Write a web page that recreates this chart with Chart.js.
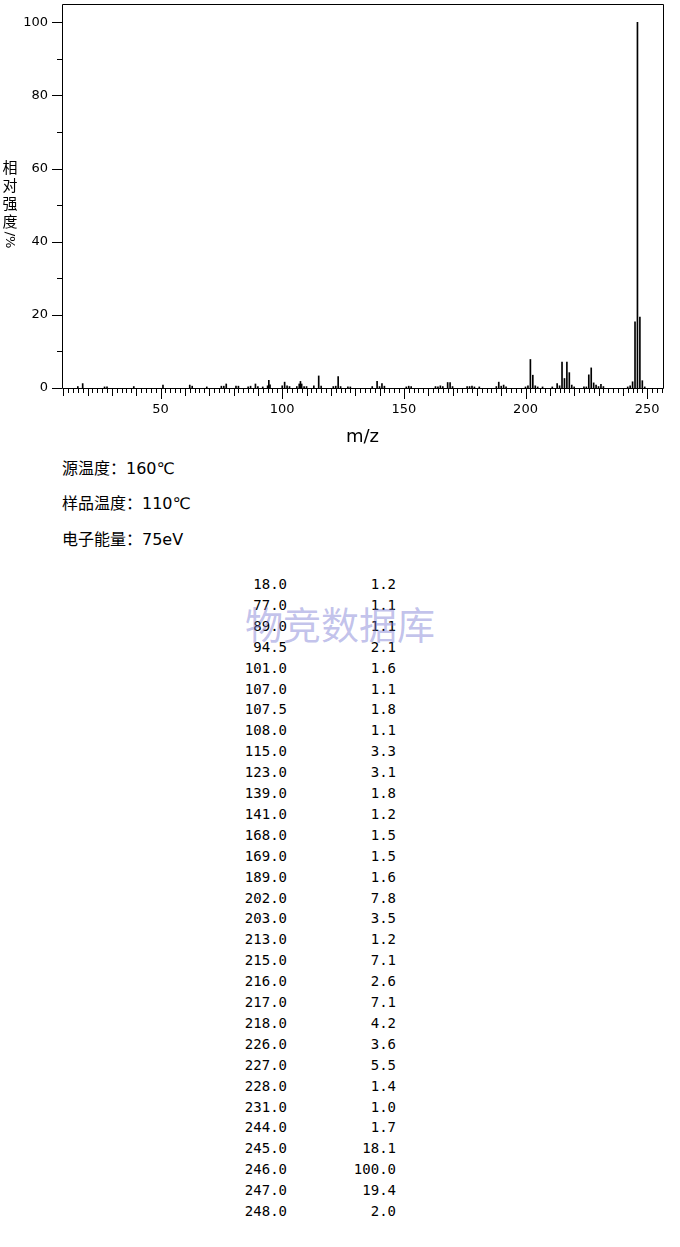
<!DOCTYPE html>
<html>
<head>
<meta charset="utf-8">
<script src="https://cdn.jsdelivr.net/npm/chart.js@4/dist/chart.umd.min.js"></script>
<style>
  html, body { margin: 0; padding: 0; background: #fff; }
  body { width: 680px; height: 1247px; position: relative; overflow: hidden; font-family: "DejaVu Sans", "Noto Sans CJK SC", sans-serif; color: #000; }
  #wrap { position: absolute; left: 0; top: 0; width: 680px; height: 450px; }
  .ych { position: absolute; left: 1px; width: 18px; text-align: center; font-size: 15px; line-height: 16px; font-family: "Noto Sans CJK SC", sans-serif; }
  .info { position: absolute; left: 62px; font-size: 16px; line-height: 20px; font-family: "DejaVu Sans", "Noto Sans CJK SC", sans-serif; }
  .row { position: absolute; left: 0; height: 20px; font-family: "DejaVu Sans Mono", monospace; font-size: 14px; line-height: 20px; }
  .c1 { position: absolute; left: 0; width: 287px; text-align: right; }
  .c2 { position: absolute; left: 0; width: 396px; text-align: right; }
  #wm { position: absolute; left: 240px; top: 600px; width: 200px; text-align: center; font-family: "Noto Sans CJK SC", sans-serif; font-size: 38px; line-height: 46px; color: rgba(120,120,210,0.45); z-index: 5; }
</style>
</head>
<body>
<div id="wrap"><canvas id="c" width="680" height="450"></canvas></div>
<div id="ytitle"></div>
<div class="info" style="top:459px">源温度：160℃</div>
<div class="info" style="top:494px">样品温度：110℃</div>
<div class="info" style="top:530px">电子能量：75eV</div>
<div id="table"></div>
<div id="wm">物竞数据库</div>
<script>
// ---- data ----
const mzValues = [16,18,27,28,39,51,62,63,69,75,76,77,81,82,86,87,89,90,92,94,94.5,95,
  100,101,102,103,106,107,107.5,108,109,110,113,115,116,121,122,123,124,127,128,
  137,139,140,141,142,151,152,153,163,164,165,166,168,169,170,176,177,178,179,181,
  188,189,190,191,192,200,201,202,203,204,205,207,211,213,214,215,216,217,218,219,220,
  224,225,226,227,228,229,230,231,232,242,243,244,245,246,247,248,249];
const intensities = [0.4,1.2,0.3,0.3,0.4,0.8,0.8,0.5,0.3,0.5,0.5,1.1,0.5,0.5,0.3,0.5,1.1,0.4,0.3,0.6,2.1,0.9,
  0.6,1.6,0.6,0.4,0.4,1.1,1.8,1.1,0.4,0.4,0.6,3.3,0.5,0.4,0.5,3.1,0.4,0.3,0.3,
  0.4,1.8,0.4,1.2,0.5,0.3,0.5,0.4,0.4,0.3,0.6,0.4,1.5,1.5,0.4,0.4,0.4,0.5,0.3,0.3,
  0.4,1.6,0.5,0.8,0.3,0.3,0.6,7.8,3.5,0.6,0.3,0.3,0.3,1.2,0.6,7.1,2.6,7.1,4.2,0.8,0.3,
  0.3,0.3,3.6,5.5,1.4,0.8,0.4,1.0,0.4,0.3,0.6,1.7,18.1,100,19.4,2.0,0.3];
const xTickLabels = [50,100,150,200,250];
const yTickLabels = [0,20,40,60,80,100];
const xRange = [9.5, 256.5];
const yRange = [0, 105];
const xMinorStep = 2, xMidStep = 10, xMajorStep = 50;
const yMinorStep = 10, yMajorStep = 20;
const yTitleChars = ["相","对","强","度"];
const yTitleTail = "/%";
const tableMz = ["18.0","77.0","89.0","94.5","101.0","107.0","107.5","108.0","115.0","123.0","139.0","141.0","168.0","169.0","189.0","202.0","203.0","213.0","215.0","216.0","217.0","218.0","226.0","227.0","228.0","231.0","244.0","245.0","246.0","247.0","248.0"];
const tableInt = ["1.2","1.1","1.1","2.1","1.6","1.1","1.8","1.1","3.3","3.1","1.8","1.2","1.5","1.5","1.6","7.8","3.5","1.2","7.1","2.6","7.1","4.2","3.6","5.5","1.4","1.0","1.7","18.1","100.0","19.4","2.0"];

// ---- y title ----
const yt = document.getElementById('ytitle');
yTitleChars.forEach((ch, i) => {
  const d = document.createElement('div');
  d.className = 'ych';
  d.style.top = (159 + i * 18) + 'px';
  d.textContent = ch;
  yt.appendChild(d);
});
const tail = document.createElement('div');
tail.className = 'ych';
tail.style.top = (232) + 'px';
tail.style.fontFamily = '"DejaVu Sans", sans-serif';
tail.style.fontSize = '13px';
tail.style.transform = 'rotate(90deg)';
tail.textContent = yTitleTail;
yt.appendChild(tail);

// ---- table ----
const tb = document.getElementById('table');
tableMz.forEach((m, i) => {
  const r = document.createElement('div');
  r.className = 'row';
  r.style.top = (574 + i * 20.9) + 'px';
  r.style.width = '680px';
  r.innerHTML = '<span class="c1">' + m + '</span><span class="c2">' + tableInt[i] + '</span>';
  tb.appendChild(r);
});

// ---- chart ----
const axisPlugin = {
  id: 'axisPlugin',
  afterDraw(chart) {
    const ctx = chart.ctx, a = chart.chartArea;
    const xs = chart.scales.x, ys = chart.scales.y;
    ctx.save();
    ctx.strokeStyle = '#000';
    ctx.lineWidth = 1;
    ctx.beginPath();
    ctx.rect(Math.round(a.left) + 0.5, Math.round(a.top) + 0.5, Math.round(a.right - a.left), Math.round(a.bottom - a.top));
    ctx.stroke();
    ctx.beginPath();
    for (let v = yRange[0]; v <= 100; v += yMinorStep) {
      const len = (v % yMajorStep === 0) ? 10 : 5;
      const py = Math.round(ys.getPixelForValue(v)) + 0.5;
      ctx.moveTo(a.left - len, py);
      ctx.lineTo(a.left, py);
    }
    for (let v = 10; v <= xRange[1]; v += xMinorStep) {
      const len = (v % xMajorStep === 0) ? 11 : (v % xMidStep === 0 ? 8 : 5);
      const px = Math.round(xs.getPixelForValue(v)) + 0.5;
      ctx.moveTo(px, a.bottom);
      ctx.lineTo(px, a.bottom + len);
    }
    ctx.stroke();
    ctx.restore();
  }
};

new Chart(document.getElementById('c'), {
  type: 'bar',
  data: {
    datasets: [{
      data: mzValues.map((m, i) => ({ x: m, y: intensities[i] })),
      backgroundColor: '#000',
      borderWidth: 0,
      barThickness: 1
    }]
  },
  options: {
    responsive: false,
    animation: false,
    events: [],
    layout: { padding: { top: 4, right: 17, left: 0, bottom: 0 } },
    plugins: { legend: { display: false }, tooltip: { enabled: false } },
    scales: {
      x: {
        type: 'linear',
        min: xRange[0], max: xRange[1],
        offset: false,
        grid: { display: false, drawTicks: false },
        border: { display: false },
        afterBuildTicks(s) { s.ticks = xTickLabels.map(v => ({ value: v })); },
        afterFit(s) { s.height = 62; s.paddingLeft = 0; s.paddingRight = 0; },
        ticks: { color: '#000', padding: 14, font: { family: 'DejaVu Sans', size: 13 }, maxRotation: 0, autoSkip: false },
        title: { display: true, text: 'm/z', color: '#000', font: { family: 'DejaVu Sans', size: 18 }, padding: { top: 0, bottom: 2 } }
      },
      y: {
        min: yRange[0], max: yRange[1],
        grid: { display: false, drawTicks: false },
        border: { display: false },
        afterBuildTicks(s) { s.ticks = yTickLabels.map(v => ({ value: v })); },
        afterFit(s) { s.width = 62; s.paddingTop = 0; s.paddingBottom = 0; },
        ticks: { color: '#000', padding: 14, font: { family: 'DejaVu Sans', size: 13 }, autoSkip: false }
      }
    }
  },
  plugins: [axisPlugin]
});
</script>
</body>
</html>
